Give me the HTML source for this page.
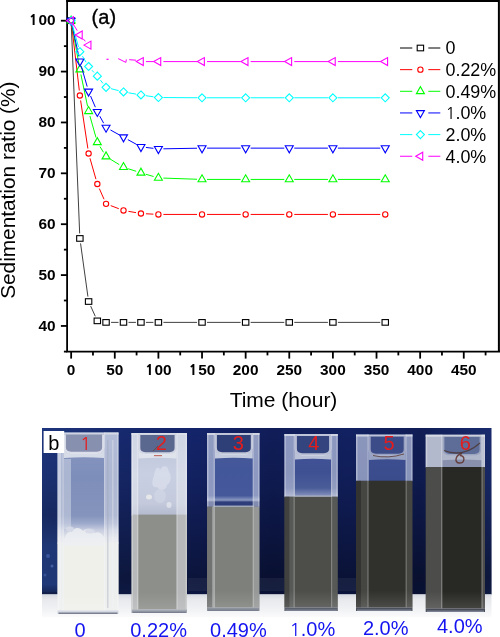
<!DOCTYPE html>
<html><head><meta charset="utf-8"><title>Sedimentation ratio</title>
<style>
html,body{margin:0;padding:0;background:#fff;}
body{width:500px;height:637px;overflow:hidden;position:relative;font-family:"Liberation Sans",Arial,sans-serif;}
svg{position:absolute;left:0;top:0;}
.tl{font-family:"Liberation Sans",Arial,sans-serif;font-weight:bold;font-size:15.4px;fill:#000;}
.at{font-family:"Liberation Sans",Arial,sans-serif;font-size:21px;fill:#000;}
.lg{font-family:"Liberation Sans",Arial,sans-serif;font-size:17.9px;fill:#000;}
.one{font-family:NanumGothic,"Liberation Sans",sans-serif;font-size:0.93em;letter-spacing:-0.01em;}
.tl .one{font-weight:800;letter-spacing:0.05em;}
.pl{font-family:"Liberation Sans",Arial,sans-serif;font-size:20px;fill:#1414f0;}
</style></head>
<body>
<svg width="500" height="637" viewBox="0 0 500 637">
<path d="M67.1,0 V351.6 H500" fill="none" stroke="#000" stroke-width="1.8"/>
<path d="M66.3,0.9 H498.9 V351.6" fill="none" stroke="#000" stroke-width="2"/>
<line x1="63.90" y1="351.60" x2="67.1" y2="351.60" stroke="#000" stroke-width="1.8"/>
<line x1="60.90" y1="325.95" x2="67.1" y2="325.95" stroke="#000" stroke-width="1.8"/>
<line x1="63.90" y1="300.51" x2="67.1" y2="300.51" stroke="#000" stroke-width="1.8"/>
<line x1="60.90" y1="275.08" x2="67.1" y2="275.08" stroke="#000" stroke-width="1.8"/>
<line x1="63.90" y1="249.64" x2="67.1" y2="249.64" stroke="#000" stroke-width="1.8"/>
<line x1="60.90" y1="224.20" x2="67.1" y2="224.20" stroke="#000" stroke-width="1.8"/>
<line x1="63.90" y1="198.76" x2="67.1" y2="198.76" stroke="#000" stroke-width="1.8"/>
<line x1="60.90" y1="173.32" x2="67.1" y2="173.32" stroke="#000" stroke-width="1.8"/>
<line x1="63.90" y1="147.89" x2="67.1" y2="147.89" stroke="#000" stroke-width="1.8"/>
<line x1="60.90" y1="122.45" x2="67.1" y2="122.45" stroke="#000" stroke-width="1.8"/>
<line x1="63.90" y1="97.01" x2="67.1" y2="97.01" stroke="#000" stroke-width="1.8"/>
<line x1="60.90" y1="71.58" x2="67.1" y2="71.58" stroke="#000" stroke-width="1.8"/>
<line x1="63.90" y1="46.14" x2="67.1" y2="46.14" stroke="#000" stroke-width="1.8"/>
<line x1="60.90" y1="20.70" x2="67.1" y2="20.70" stroke="#000" stroke-width="1.8"/>
<line x1="71.15" y1="351.6" x2="71.15" y2="358.60" stroke="#000" stroke-width="1.8"/>
<line x1="92.96" y1="351.6" x2="92.96" y2="355.40" stroke="#000" stroke-width="1.8"/>
<line x1="114.78" y1="351.6" x2="114.78" y2="358.60" stroke="#000" stroke-width="1.8"/>
<line x1="136.59" y1="351.6" x2="136.59" y2="355.40" stroke="#000" stroke-width="1.8"/>
<line x1="158.40" y1="351.6" x2="158.40" y2="358.60" stroke="#000" stroke-width="1.8"/>
<line x1="180.21" y1="351.6" x2="180.21" y2="355.40" stroke="#000" stroke-width="1.8"/>
<line x1="202.03" y1="351.6" x2="202.03" y2="358.60" stroke="#000" stroke-width="1.8"/>
<line x1="223.84" y1="351.6" x2="223.84" y2="355.40" stroke="#000" stroke-width="1.8"/>
<line x1="245.65" y1="351.6" x2="245.65" y2="358.60" stroke="#000" stroke-width="1.8"/>
<line x1="267.46" y1="351.6" x2="267.46" y2="355.40" stroke="#000" stroke-width="1.8"/>
<line x1="289.27" y1="351.6" x2="289.27" y2="358.60" stroke="#000" stroke-width="1.8"/>
<line x1="311.09" y1="351.6" x2="311.09" y2="355.40" stroke="#000" stroke-width="1.8"/>
<line x1="332.90" y1="351.6" x2="332.90" y2="358.60" stroke="#000" stroke-width="1.8"/>
<line x1="354.71" y1="351.6" x2="354.71" y2="355.40" stroke="#000" stroke-width="1.8"/>
<line x1="376.52" y1="351.6" x2="376.52" y2="358.60" stroke="#000" stroke-width="1.8"/>
<line x1="398.34" y1="351.6" x2="398.34" y2="355.40" stroke="#000" stroke-width="1.8"/>
<line x1="420.15" y1="351.6" x2="420.15" y2="358.60" stroke="#000" stroke-width="1.8"/>
<line x1="441.96" y1="351.6" x2="441.96" y2="355.40" stroke="#000" stroke-width="1.8"/>
<line x1="463.77" y1="351.6" x2="463.77" y2="358.60" stroke="#000" stroke-width="1.8"/>
<line x1="485.59" y1="351.6" x2="485.59" y2="355.40" stroke="#000" stroke-width="1.8"/>
<line x1="71.35" y1="25.70" x2="79.67" y2="233.45" stroke="#404040" stroke-width="1"/>
<line x1="80.56" y1="243.40" x2="87.91" y2="296.58" stroke="#404040" stroke-width="1"/>
<line x1="90.66" y1="306.09" x2="95.27" y2="316.31" stroke="#404040" stroke-width="1"/>

<line x1="111.05" y1="322.39" x2="118.50" y2="322.39" stroke="#404040" stroke-width="1"/>
<line x1="128.50" y1="322.39" x2="135.95" y2="322.39" stroke="#404040" stroke-width="1"/>
<line x1="145.95" y1="322.39" x2="153.40" y2="322.39" stroke="#404040" stroke-width="1"/>
<line x1="163.40" y1="322.39" x2="197.03" y2="322.39" stroke="#404040" stroke-width="1"/>
<line x1="207.03" y1="322.39" x2="240.65" y2="322.39" stroke="#404040" stroke-width="1"/>
<line x1="250.65" y1="322.39" x2="284.27" y2="322.39" stroke="#404040" stroke-width="1"/>
<line x1="294.27" y1="322.39" x2="327.90" y2="322.39" stroke="#404040" stroke-width="1"/>
<line x1="337.90" y1="322.39" x2="380.25" y2="322.39" stroke="#404040" stroke-width="1"/>
<rect x="67.95" y="17.90" width="6.40" height="5.60" fill="none" stroke="#000000" stroke-width="1.1"/>
<rect x="76.67" y="235.65" width="6.40" height="5.60" fill="none" stroke="#000000" stroke-width="1.1"/>
<rect x="85.40" y="298.73" width="6.40" height="5.60" fill="none" stroke="#000000" stroke-width="1.1"/>
<rect x="94.12" y="318.06" width="6.40" height="5.60" fill="none" stroke="#000000" stroke-width="1.1"/>
<rect x="102.85" y="319.59" width="6.40" height="5.60" fill="none" stroke="#000000" stroke-width="1.1"/>
<rect x="120.30" y="319.59" width="6.40" height="5.60" fill="none" stroke="#000000" stroke-width="1.1"/>
<rect x="137.75" y="319.59" width="6.40" height="5.60" fill="none" stroke="#000000" stroke-width="1.1"/>
<rect x="155.20" y="319.59" width="6.40" height="5.60" fill="none" stroke="#000000" stroke-width="1.1"/>
<rect x="198.83" y="319.59" width="6.40" height="5.60" fill="none" stroke="#000000" stroke-width="1.1"/>
<rect x="242.45" y="319.59" width="6.40" height="5.60" fill="none" stroke="#000000" stroke-width="1.1"/>
<rect x="286.07" y="319.59" width="6.40" height="5.60" fill="none" stroke="#000000" stroke-width="1.1"/>
<rect x="329.70" y="319.59" width="6.40" height="5.60" fill="none" stroke="#000000" stroke-width="1.1"/>
<rect x="382.05" y="319.59" width="6.40" height="5.60" fill="none" stroke="#000000" stroke-width="1.1"/>
<line x1="71.73" y1="25.67" x2="79.30" y2="90.52" stroke="#ff0000" stroke-width="1"/>
<line x1="80.62" y1="100.43" x2="87.86" y2="148.54" stroke="#ff0000" stroke-width="1"/>
<line x1="89.97" y1="158.29" x2="95.95" y2="179.20" stroke="#ff0000" stroke-width="1"/>
<line x1="99.34" y1="188.59" x2="104.04" y2="199.27" stroke="#ff0000" stroke-width="1"/>
<line x1="110.73" y1="205.62" x2="118.82" y2="208.69" stroke="#ff0000" stroke-width="1"/>
<line x1="128.43" y1="211.33" x2="136.02" y2="212.65" stroke="#ff0000" stroke-width="1"/>
<line x1="145.94" y1="213.78" x2="153.41" y2="214.17" stroke="#ff0000" stroke-width="1"/>
<line x1="163.40" y1="214.43" x2="197.03" y2="214.43" stroke="#ff0000" stroke-width="1"/>
<line x1="207.03" y1="214.43" x2="240.65" y2="214.43" stroke="#ff0000" stroke-width="1"/>
<line x1="250.65" y1="214.43" x2="284.27" y2="214.43" stroke="#ff0000" stroke-width="1"/>
<line x1="294.27" y1="214.43" x2="327.90" y2="214.43" stroke="#ff0000" stroke-width="1"/>
<line x1="337.90" y1="214.43" x2="380.25" y2="214.43" stroke="#ff0000" stroke-width="1"/>
<circle cx="71.15" cy="20.70" r="2.65" fill="none" stroke="#ff0000" stroke-width="1.1"/>
<circle cx="79.88" cy="95.49" r="2.65" fill="none" stroke="#ff0000" stroke-width="1.1"/>
<circle cx="88.60" cy="153.48" r="2.65" fill="none" stroke="#ff0000" stroke-width="1.1"/>
<circle cx="97.33" cy="184.01" r="2.65" fill="none" stroke="#ff0000" stroke-width="1.1"/>
<circle cx="106.05" cy="203.85" r="2.65" fill="none" stroke="#ff0000" stroke-width="1.1"/>
<circle cx="123.50" cy="210.46" r="2.65" fill="none" stroke="#ff0000" stroke-width="1.1"/>
<circle cx="140.95" cy="213.52" r="2.65" fill="none" stroke="#ff0000" stroke-width="1.1"/>
<circle cx="158.40" cy="214.43" r="2.65" fill="none" stroke="#ff0000" stroke-width="1.1"/>
<circle cx="202.03" cy="214.43" r="2.65" fill="none" stroke="#ff0000" stroke-width="1.1"/>
<circle cx="245.65" cy="214.43" r="2.65" fill="none" stroke="#ff0000" stroke-width="1.1"/>
<circle cx="289.27" cy="214.43" r="2.65" fill="none" stroke="#ff0000" stroke-width="1.1"/>
<circle cx="332.90" cy="214.43" r="2.65" fill="none" stroke="#ff0000" stroke-width="1.1"/>
<circle cx="385.25" cy="214.43" r="2.65" fill="none" stroke="#ff0000" stroke-width="1.1"/>
<line x1="72.03" y1="25.62" x2="79.00" y2="64.62" stroke="#00ff00" stroke-width="1"/>
<line x1="80.90" y1="74.43" x2="87.58" y2="106.36" stroke="#00ff00" stroke-width="1"/>
<line x1="89.95" y1="116.07" x2="95.97" y2="137.48" stroke="#00ff00" stroke-width="1"/>
<line x1="99.94" y1="146.56" x2="103.44" y2="152.27" stroke="#00ff00" stroke-width="1"/>
<line x1="110.31" y1="159.15" x2="119.24" y2="164.61" stroke="#00ff00" stroke-width="1"/>
<line x1="128.26" y1="168.75" x2="136.19" y2="171.29" stroke="#00ff00" stroke-width="1"/>
<line x1="145.75" y1="174.22" x2="153.60" y2="176.50" stroke="#00ff00" stroke-width="1"/>
<line x1="163.40" y1="178.08" x2="197.03" y2="179.26" stroke="#00ff00" stroke-width="1"/>
<line x1="207.03" y1="179.43" x2="240.65" y2="179.43" stroke="#00ff00" stroke-width="1"/>
<line x1="250.65" y1="179.43" x2="284.27" y2="179.43" stroke="#00ff00" stroke-width="1"/>
<line x1="294.27" y1="179.43" x2="327.90" y2="179.43" stroke="#00ff00" stroke-width="1"/>
<line x1="337.90" y1="179.43" x2="380.25" y2="179.43" stroke="#00ff00" stroke-width="1"/>
<path d="M67.15,23.03L75.15,23.03L71.15,16.03Z" fill="none" stroke="#00ff00" stroke-width="1.1"/>
<path d="M75.88,71.87L83.88,71.87L79.88,64.87Z" fill="none" stroke="#00ff00" stroke-width="1.1"/>
<path d="M84.60,113.59L92.60,113.59L88.60,106.59Z" fill="none" stroke="#00ff00" stroke-width="1.1"/>
<path d="M93.33,144.62L101.33,144.62L97.33,137.62Z" fill="none" stroke="#00ff00" stroke-width="1.1"/>
<path d="M102.05,158.87L110.05,158.87L106.05,151.87Z" fill="none" stroke="#00ff00" stroke-width="1.1"/>
<path d="M119.50,169.55L127.50,169.55L123.50,162.55Z" fill="none" stroke="#00ff00" stroke-width="1.1"/>
<path d="M136.95,175.15L144.95,175.15L140.95,168.15Z" fill="none" stroke="#00ff00" stroke-width="1.1"/>
<path d="M154.40,180.24L162.40,180.24L158.40,173.24Z" fill="none" stroke="#00ff00" stroke-width="1.1"/>
<path d="M198.03,181.76L206.03,181.76L202.03,174.76Z" fill="none" stroke="#00ff00" stroke-width="1.1"/>
<path d="M241.65,181.76L249.65,181.76L245.65,174.76Z" fill="none" stroke="#00ff00" stroke-width="1.1"/>
<path d="M285.27,181.76L293.27,181.76L289.27,174.76Z" fill="none" stroke="#00ff00" stroke-width="1.1"/>
<path d="M328.90,181.76L336.90,181.76L332.90,174.76Z" fill="none" stroke="#00ff00" stroke-width="1.1"/>
<path d="M381.25,181.76L389.25,181.76L385.25,174.76Z" fill="none" stroke="#00ff00" stroke-width="1.1"/>
<line x1="72.20" y1="25.59" x2="78.83" y2="56.51" stroke="#0000ff" stroke-width="1"/>
<line x1="81.27" y1="66.20" x2="87.20" y2="86.61" stroke="#0000ff" stroke-width="1"/>
<line x1="90.57" y1="96.01" x2="95.35" y2="107.17" stroke="#0000ff" stroke-width="1"/>
<line x1="99.75" y1="116.14" x2="103.63" y2="123.16" stroke="#0000ff" stroke-width="1"/>
<line x1="110.42" y1="129.96" x2="119.13" y2="134.78" stroke="#0000ff" stroke-width="1"/>
<line x1="127.87" y1="139.63" x2="136.58" y2="144.45" stroke="#0000ff" stroke-width="1"/>
<line x1="145.92" y1="147.45" x2="153.43" y2="148.33" stroke="#0000ff" stroke-width="1"/>
<line x1="163.40" y1="148.82" x2="197.03" y2="148.23" stroke="#0000ff" stroke-width="1"/>
<line x1="207.03" y1="148.14" x2="240.65" y2="148.14" stroke="#0000ff" stroke-width="1"/>
<line x1="250.65" y1="148.14" x2="284.27" y2="148.14" stroke="#0000ff" stroke-width="1"/>
<line x1="294.27" y1="148.14" x2="327.90" y2="148.14" stroke="#0000ff" stroke-width="1"/>
<line x1="337.90" y1="148.14" x2="380.25" y2="148.14" stroke="#0000ff" stroke-width="1"/>
<path d="M67.15,18.37L75.15,18.37L71.15,25.37Z" fill="none" stroke="#0000ff" stroke-width="1.1"/>
<path d="M75.88,59.07L83.88,59.07L79.88,66.07Z" fill="none" stroke="#0000ff" stroke-width="1.1"/>
<path d="M84.60,89.08L92.60,89.08L88.60,96.08Z" fill="none" stroke="#0000ff" stroke-width="1.1"/>
<path d="M93.33,109.43L101.33,109.43L97.33,116.43Z" fill="none" stroke="#0000ff" stroke-width="1.1"/>
<path d="M102.05,125.20L110.05,125.20L106.05,132.20Z" fill="none" stroke="#0000ff" stroke-width="1.1"/>
<path d="M119.50,134.87L127.50,134.87L123.50,141.87Z" fill="none" stroke="#0000ff" stroke-width="1.1"/>
<path d="M136.95,144.54L144.95,144.54L140.95,151.54Z" fill="none" stroke="#0000ff" stroke-width="1.1"/>
<path d="M154.40,146.57L162.40,146.57L158.40,153.57Z" fill="none" stroke="#0000ff" stroke-width="1.1"/>
<path d="M198.03,145.81L206.03,145.81L202.03,152.81Z" fill="none" stroke="#0000ff" stroke-width="1.1"/>
<path d="M241.65,145.81L249.65,145.81L245.65,152.81Z" fill="none" stroke="#0000ff" stroke-width="1.1"/>
<path d="M285.27,145.81L293.27,145.81L289.27,152.81Z" fill="none" stroke="#0000ff" stroke-width="1.1"/>
<path d="M328.90,145.81L336.90,145.81L332.90,152.81Z" fill="none" stroke="#0000ff" stroke-width="1.1"/>
<path d="M381.25,145.81L389.25,145.81L385.25,152.81Z" fill="none" stroke="#0000ff" stroke-width="1.1"/>
<line x1="72.50" y1="25.51" x2="78.52" y2="46.92" stroke="#00ffff" stroke-width="1"/>
<line x1="82.42" y1="56.04" x2="86.05" y2="62.18" stroke="#00ffff" stroke-width="1"/>
<line x1="91.95" y1="70.20" x2="93.97" y2="72.44" stroke="#00ffff" stroke-width="1"/>
<line x1="100.40" y1="80.10" x2="102.98" y2="83.40" stroke="#00ffff" stroke-width="1"/>
<line x1="110.89" y1="88.62" x2="118.66" y2="90.66" stroke="#00ffff" stroke-width="1"/>
<line x1="128.43" y1="92.79" x2="136.02" y2="94.12" stroke="#00ffff" stroke-width="1"/>
<line x1="145.90" y1="95.70" x2="153.45" y2="96.80" stroke="#00ffff" stroke-width="1"/>
<line x1="163.40" y1="97.55" x2="197.03" y2="97.75" stroke="#00ffff" stroke-width="1"/>
<line x1="207.03" y1="97.78" x2="240.65" y2="97.78" stroke="#00ffff" stroke-width="1"/>
<line x1="250.65" y1="97.78" x2="284.27" y2="97.78" stroke="#00ffff" stroke-width="1"/>
<line x1="294.27" y1="97.78" x2="327.90" y2="97.78" stroke="#00ffff" stroke-width="1"/>
<line x1="337.90" y1="97.78" x2="380.25" y2="97.78" stroke="#00ffff" stroke-width="1"/>
<path d="M71.15,16.70L75.15,20.70L71.15,24.70L67.15,20.70Z" fill="none" stroke="#00ffff" stroke-width="1.1"/>
<path d="M79.88,47.73L83.88,51.73L79.88,55.73L75.88,51.73Z" fill="none" stroke="#00ffff" stroke-width="1.1"/>
<path d="M88.60,62.49L92.60,66.49L88.60,70.49L84.60,66.49Z" fill="none" stroke="#00ffff" stroke-width="1.1"/>
<path d="M97.33,72.15L101.33,76.15L97.33,80.15L93.33,76.15Z" fill="none" stroke="#00ffff" stroke-width="1.1"/>
<path d="M106.05,83.35L110.05,87.35L106.05,91.35L102.05,87.35Z" fill="none" stroke="#00ffff" stroke-width="1.1"/>
<path d="M123.50,87.93L127.50,91.93L123.50,95.93L119.50,91.93Z" fill="none" stroke="#00ffff" stroke-width="1.1"/>
<path d="M140.95,90.98L144.95,94.98L140.95,98.98L136.95,94.98Z" fill="none" stroke="#00ffff" stroke-width="1.1"/>
<path d="M158.40,93.52L162.40,97.52L158.40,101.52L154.40,97.52Z" fill="none" stroke="#00ffff" stroke-width="1.1"/>
<path d="M202.03,93.78L206.03,97.78L202.03,101.78L198.03,97.78Z" fill="none" stroke="#00ffff" stroke-width="1.1"/>
<path d="M245.65,93.78L249.65,97.78L245.65,101.78L241.65,97.78Z" fill="none" stroke="#00ffff" stroke-width="1.1"/>
<path d="M289.27,93.78L293.27,97.78L289.27,101.78L285.27,97.78Z" fill="none" stroke="#00ffff" stroke-width="1.1"/>
<path d="M332.90,93.78L336.90,97.78L332.90,101.78L328.90,97.78Z" fill="none" stroke="#00ffff" stroke-width="1.1"/>
<path d="M385.25,93.78L389.25,97.78L385.25,101.78L381.25,97.78Z" fill="none" stroke="#00ffff" stroke-width="1.1"/>
<line x1="73.76" y1="24.96" x2="77.26" y2="30.68" stroke="#ff00ff" stroke-width="1"/>
<line x1="83.13" y1="38.74" x2="85.35" y2="41.32" stroke="#ff00ff" stroke-width="1"/>
<line x1="145.95" y1="61.60" x2="153.40" y2="61.60" stroke="#ff00ff" stroke-width="1"/>
<line x1="163.40" y1="61.60" x2="197.03" y2="61.60" stroke="#ff00ff" stroke-width="1"/>
<line x1="207.03" y1="61.60" x2="240.65" y2="61.60" stroke="#ff00ff" stroke-width="1"/>
<line x1="250.65" y1="61.60" x2="284.27" y2="61.60" stroke="#ff00ff" stroke-width="1"/>
<line x1="294.27" y1="61.60" x2="327.90" y2="61.60" stroke="#ff00ff" stroke-width="1"/>
<line x1="337.90" y1="61.60" x2="380.25" y2="61.60" stroke="#ff00ff" stroke-width="1"/>
<path d="M66.48,20.70L73.48,16.70L73.48,24.70Z" fill="none" stroke="#ff00ff" stroke-width="1.1"/>
<path d="M75.21,34.94L82.21,30.94L82.21,38.94Z" fill="none" stroke="#ff00ff" stroke-width="1.1"/>
<path d="M83.93,45.12L90.93,41.12L90.93,49.12Z" fill="none" stroke="#ff00ff" stroke-width="1.1"/>
<path d="M136.28,61.60L143.28,57.60L143.28,65.60Z" fill="none" stroke="#ff00ff" stroke-width="1.1"/>
<path d="M153.73,61.60L160.73,57.60L160.73,65.60Z" fill="none" stroke="#ff00ff" stroke-width="1.1"/>
<path d="M197.36,61.60L204.36,57.60L204.36,65.60Z" fill="none" stroke="#ff00ff" stroke-width="1.1"/>
<path d="M240.98,61.60L247.98,57.60L247.98,65.60Z" fill="none" stroke="#ff00ff" stroke-width="1.1"/>
<path d="M284.61,61.60L291.61,57.60L291.61,65.60Z" fill="none" stroke="#ff00ff" stroke-width="1.1"/>
<path d="M328.23,61.60L335.23,57.60L335.23,65.60Z" fill="none" stroke="#ff00ff" stroke-width="1.1"/>
<path d="M380.58,61.60L387.58,57.60L387.58,65.60Z" fill="none" stroke="#ff00ff" stroke-width="1.1"/>
<line x1="106.5" y1="59.3" x2="108.6" y2="59.3" stroke="#ff00ff" stroke-width="1.2"/>
<polyline points="118.2,58.6 125.9,62.4 126.3,59.4" fill="none" stroke="#ff00ff" stroke-width="1"/>
<line x1="129.2" y1="59.7" x2="136" y2="60.2" stroke="#ff00ff" stroke-width="1"/>
<text x="55.5" y="330.65" text-anchor="end" class="tl">40</text>
<text x="55.5" y="279.78" text-anchor="end" class="tl">50</text>
<text x="55.5" y="228.90" text-anchor="end" class="tl">60</text>
<text x="55.5" y="178.02" text-anchor="end" class="tl">70</text>
<text x="55.5" y="127.15" text-anchor="end" class="tl">80</text>
<text x="55.5" y="76.28" text-anchor="end" class="tl">90</text>
<text x="55.5" y="25.40" text-anchor="end" class="tl"><tspan class="one">1</tspan>00</text>
<text x="71.15" y="375.1" text-anchor="middle" class="tl">0</text>
<text x="114.78" y="375.1" text-anchor="middle" class="tl">50</text>
<text x="158.40" y="375.1" text-anchor="middle" class="tl"><tspan class="one">1</tspan>00</text>
<text x="202.03" y="375.1" text-anchor="middle" class="tl"><tspan class="one">1</tspan>50</text>
<text x="245.65" y="375.1" text-anchor="middle" class="tl">200</text>
<text x="289.27" y="375.1" text-anchor="middle" class="tl">250</text>
<text x="332.90" y="375.1" text-anchor="middle" class="tl">300</text>
<text x="376.52" y="375.1" text-anchor="middle" class="tl">350</text>
<text x="420.15" y="375.1" text-anchor="middle" class="tl">400</text>
<text x="463.77" y="375.1" text-anchor="middle" class="tl">450</text>
<text x="283.5" y="406.8" text-anchor="middle" class="at">Time (hour)</text>
<text transform="translate(14.7,190.2) rotate(-90)" text-anchor="middle" class="at" style="font-size:20.8px">Sedimentation ratio (%)</text>
<text x="91.6" y="23.6" class="at" style="font-size:20px;stroke:#000;stroke-width:0.35px">(a)</text>
<line x1="400" y1="48.00" x2="412.3" y2="48.00" stroke="#000000" stroke-width="1"/>
<line x1="428.3" y1="48.00" x2="440.3" y2="48.00" stroke="#000000" stroke-width="1"/>
<rect x="417.20" y="45.20" width="6.40" height="5.60" fill="none" stroke="#000000" stroke-width="1.1"/>
<text x="445.5" y="54.30" class="lg">0</text>
<line x1="400" y1="69.65" x2="412.3" y2="69.65" stroke="#ff0000" stroke-width="1"/>
<line x1="428.3" y1="69.65" x2="440.3" y2="69.65" stroke="#ff0000" stroke-width="1"/>
<circle cx="420.40" cy="69.65" r="2.65" fill="none" stroke="#ff0000" stroke-width="1.1"/>
<text x="445.5" y="75.95" class="lg">0.22%</text>
<line x1="400" y1="91.30" x2="412.3" y2="91.30" stroke="#00ff00" stroke-width="1"/>
<line x1="428.3" y1="91.30" x2="440.3" y2="91.30" stroke="#00ff00" stroke-width="1"/>
<path d="M416.40,93.63L424.40,93.63L420.40,86.63Z" fill="none" stroke="#00ff00" stroke-width="1.1"/>
<text x="445.5" y="97.60" class="lg">0.49%</text>
<line x1="400" y1="112.95" x2="412.3" y2="112.95" stroke="#0000ff" stroke-width="1"/>
<line x1="428.3" y1="112.95" x2="440.3" y2="112.95" stroke="#0000ff" stroke-width="1"/>
<path d="M416.40,110.62L424.40,110.62L420.40,117.62Z" fill="none" stroke="#0000ff" stroke-width="1.1"/>
<text x="445.5" y="119.25" class="lg"><tspan class="one">1</tspan>.0%</text>
<line x1="400" y1="134.60" x2="412.3" y2="134.60" stroke="#00ffff" stroke-width="1"/>
<line x1="428.3" y1="134.60" x2="440.3" y2="134.60" stroke="#00ffff" stroke-width="1"/>
<path d="M420.40,130.60L424.40,134.60L420.40,138.60L416.40,134.60Z" fill="none" stroke="#00ffff" stroke-width="1.1"/>
<text x="445.5" y="140.90" class="lg">2.0%</text>
<line x1="400" y1="156.25" x2="412.3" y2="156.25" stroke="#ff00ff" stroke-width="1"/>
<line x1="428.3" y1="156.25" x2="440.3" y2="156.25" stroke="#ff00ff" stroke-width="1"/>
<path d="M415.73,156.25L422.73,152.25L422.73,160.25Z" fill="none" stroke="#ff00ff" stroke-width="1.1"/>
<text x="445.5" y="162.55" class="lg">4.0%</text>
<defs>
<linearGradient id="bg" x1="0" y1="0" x2="1" y2="0">
 <stop offset="0" stop-color="#1e367e"/>
 <stop offset="0.033" stop-color="#1c337a"/>
 <stop offset="0.185" stop-color="#17296e"/>
 <stop offset="0.345" stop-color="#14246a"/>
 <stop offset="0.512" stop-color="#101d58"/>
 <stop offset="0.679" stop-color="#122162"/>
 <stop offset="0.841" stop-color="#101d56"/>
 <stop offset="1" stop-color="#192b6e"/>
</linearGradient>
<linearGradient id="bgv" x1="0" y1="0" x2="0" y2="1">
 <stop offset="0" stop-color="#000" stop-opacity="0"/>
 <stop offset="0.3" stop-color="#000" stop-opacity="0.1"/>
 <stop offset="0.65" stop-color="#000" stop-opacity="0.3"/>
 <stop offset="0.9" stop-color="#000" stop-opacity="0.45"/>
 <stop offset="1" stop-color="#000" stop-opacity="0.4"/>
</linearGradient>
<linearGradient id="tbl" x1="0" y1="0" x2="0" y2="1">
 <stop offset="0" stop-color="#d6d9e0"/>
 <stop offset="0.2" stop-color="#e6e8ec"/>
 <stop offset="0.7" stop-color="#f2f3f5"/>
 <stop offset="1" stop-color="#fbfbfc"/>
</linearGradient>
<linearGradient id="lstrip" x1="0" y1="0" x2="0" y2="1">
 <stop offset="0" stop-color="#2a4a98" stop-opacity="0"/>
 <stop offset="0.4" stop-color="#2a4a98" stop-opacity="0.5"/>
 <stop offset="0.9" stop-color="#2a4a98" stop-opacity="0.6"/>
 <stop offset="1" stop-color="#2a4a98" stop-opacity="0.2"/>
</linearGradient>
<linearGradient id="lbot" x1="0" y1="0" x2="0" y2="1">
 <stop offset="0" stop-color="#fff" stop-opacity="0"/>
 <stop offset="1" stop-color="#fff" stop-opacity="0.13"/>
</linearGradient>
<linearGradient id="ch1" x1="0" y1="0" x2="0" y2="1">
 <stop offset="0" stop-color="#8898c2"/>
 <stop offset="0.4" stop-color="#7e8eba"/>
 <stop offset="0.75" stop-color="#8494bc"/>
 <stop offset="0.82" stop-color="#9eaacc"/>
 <stop offset="0.88" stop-color="#c8cee0"/>
 <stop offset="0.95" stop-color="#e4e6ec"/>
 <stop offset="1" stop-color="#eeeff0"/>
</linearGradient>
<linearGradient id="ch2" x1="0" y1="0" x2="0" y2="1">
 <stop offset="0" stop-color="#bcc4da"/>
 <stop offset="0.5" stop-color="#c8cfe2"/>
 <stop offset="0.85" stop-color="#c4cadc"/>
 <stop offset="1" stop-color="#b4bace"/>
</linearGradient>
<linearGradient id="ch3" x1="0" y1="0" x2="0" y2="1">
 <stop offset="0" stop-color="#4a5c98"/>
 <stop offset="0.5" stop-color="#42569a"/>
 <stop offset="0.84" stop-color="#44589a"/>
 <stop offset="0.9" stop-color="#8a98c0"/>
 <stop offset="0.925" stop-color="#2e3e7a"/>
 <stop offset="1" stop-color="#2c3c78"/>
</linearGradient>
<linearGradient id="ch4" x1="0" y1="0" x2="0" y2="1">
 <stop offset="0" stop-color="#44569a"/>
 <stop offset="0.6" stop-color="#3e5092"/>
 <stop offset="0.85" stop-color="#4a5c98"/>
 <stop offset="0.95" stop-color="#7886b4"/>
 <stop offset="1" stop-color="#a0aac8"/>
</linearGradient>
<linearGradient id="ch5" x1="0" y1="0" x2="0" y2="1">
 <stop offset="0" stop-color="#3e5092"/>
 <stop offset="1" stop-color="#3a4c8c"/>
</linearGradient>
</defs>
<rect x="42" y="428" width="449.5" height="166.5" fill="url(#bg)"/>
<rect x="42" y="428" width="449.5" height="166.5" fill="url(#bgv)"/>
<rect x="42" y="594.3" width="449.5" height="23" fill="url(#tbl)"/>
<rect x="42" y="515" width="15.5" height="77" fill="url(#lstrip)"/>
<circle cx="48" cy="556" r="2" fill="#4a6ab8" opacity="0.6"/><circle cx="52" cy="566" r="1.5" fill="#5a7ac0" opacity="0.6"/><circle cx="45" cy="575" r="1.5" fill="#4a6ab8" opacity="0.5"/>
<rect x="188" y="578" width="19" height="13" fill="#4a5068" opacity="0.22"/>
<rect x="260" y="578" width="24" height="13" fill="#4a5068" opacity="0.22"/>
<rect x="338" y="578" width="18" height="13" fill="#4a5068" opacity="0.22"/>
<rect x="57.5" y="432.5" width="61.0" height="111.0" fill="url(#ch1)"/>
<rect x="57.5" y="542.5" width="61.0" height="68.0" fill="#f0f0eb"/>
<path d="M64,434.0 H104 V447.5 Q104,453.0 97,453.5 H71 Q64,453.0 64,447.5 Z" fill="#8890b0"/>
<path d="M64.8,434.5 V447.5 Q64.8,452.5 71,452.8 H97 Q103.2,452.5 103.2,447.5 V434.5" fill="none" stroke="#eef0f6" stroke-width="2.2" opacity="0.81"/>
<path d="M64,448.0 Q64,453.0 71,453.5 H97 Q104,453.0 104,448.0 V458.0 Q84.0,456.5 64,458.0 Z" fill="#e4e7ee" opacity="0.85"/>
<rect x="57.5" y="432.5" width="6.5" height="178.0" fill="#e8eaf2" opacity="0.45"/>
<rect x="104" y="432.5" width="14.5" height="178.0" fill="#e8eaf2" opacity="0.45"/>
<rect x="57.5" y="432.5" width="1.5" height="181.5" fill="#fff" opacity="0.3"/>
<rect x="117.0" y="432.5" width="1.5" height="181.5" fill="#fff" opacity="0.25"/>
<rect x="62.5" y="432.5" width="1.2" height="181.5" fill="#fff" opacity="0.25"/>
<rect x="104" y="432.5" width="1.2" height="181.5" fill="#fff" opacity="0.25"/>
<rect x="57.5" y="432.5" width="61.0" height="2" fill="#dfe2ea" opacity="0.8"/>
<rect x="57.5" y="593.5" width="61.0" height="17" fill="url(#lbot)"/>
<rect x="57.5" y="610.5" width="61.0" height="3.5" fill="#d4d8e2"/>
<rect x="58.5" y="612.5" width="59.0" height="1.5" fill="#7a8090"/>
<text x="85.5" y="449.6" text-anchor="middle" style="font-family:'Liberation Sans',Arial,sans-serif;font-size:20px;fill:#e41c1c"><tspan class="one">1</tspan></text>
<rect x="131.5" y="433" width="55.5" height="82.60000000000002" fill="url(#ch2)"/>
<rect x="131.5" y="514.6" width="55.5" height="94.89999999999998" fill="#8d8f8b"/>
<path d="M138.4,434.5 H176.5 V448 Q176.5,453.5 169.5,454 H145.4 Q138.4,453.5 138.4,448 Z" fill="#5a6890"/>
<path d="M139.20000000000002,435 V448 Q139.20000000000002,453 145.4,453.3 H169.5 Q175.7,453 175.7,448 V435" fill="none" stroke="#eef0f6" stroke-width="2.2" opacity="0.81"/>
<path d="M138.4,448.5 Q138.4,453.5 145.4,454 H169.5 Q176.5,453.5 176.5,448.5 V458.5 Q157.45,457 138.4,458.5 Z" fill="#e4e7ee" opacity="0.85"/>
<rect x="131.5" y="433" width="6.900000000000006" height="176.5" fill="#e8eaf2" opacity="0.45"/>
<rect x="176.5" y="433" width="10.5" height="176.5" fill="#e8eaf2" opacity="0.45"/>
<rect x="131.5" y="433" width="1.5" height="180" fill="#fff" opacity="0.3"/>
<rect x="185.5" y="433" width="1.5" height="180" fill="#fff" opacity="0.25"/>
<rect x="136.9" y="433" width="1.2" height="180" fill="#fff" opacity="0.25"/>
<rect x="176.5" y="433" width="1.2" height="180" fill="#fff" opacity="0.25"/>
<rect x="131.5" y="433" width="55.5" height="2" fill="#dfe2ea" opacity="0.8"/>
<rect x="131.5" y="592.5" width="55.5" height="17" fill="url(#lbot)"/>
<rect x="131.5" y="609.5" width="55.5" height="3.5" fill="#a4a8b2"/>
<rect x="132.5" y="611.5" width="53.5" height="1.5" fill="#7a8090"/>
<text x="161.2" y="449.6" text-anchor="middle" style="font-family:'Liberation Sans',Arial,sans-serif;font-size:20px;fill:#e41c1c">2</text>
<rect x="207" y="433" width="52.5" height="74.60000000000002" fill="url(#ch3)"/>
<rect x="207" y="506.6" width="52.5" height="100.89999999999998" fill="#7e807b"/>
<path d="M215,434.5 H252.7 V448 Q252.7,453.5 245.7,454 H222 Q215,453.5 215,448 Z" fill="#2e3e76"/>
<path d="M215.8,435 V448 Q215.8,453 222,453.3 H245.7 Q251.89999999999998,453 251.89999999999998,448 V435" fill="none" stroke="#eef0f6" stroke-width="2.2" opacity="0.76"/>
<path d="M215,448.5 Q215,453.5 222,454 H245.7 Q252.7,453.5 252.7,448.5 V458.5 Q233.85,457 215,458.5 Z" fill="#e4e7ee" opacity="0.8"/>
<rect x="207" y="433" width="8" height="73.60000000000002" fill="#e8eaf2" opacity="0.45"/>
<rect x="252.7" y="433" width="6.800000000000011" height="73.60000000000002" fill="#e8eaf2" opacity="0.45"/>
<rect x="207" y="506.6" width="8" height="100.89999999999998" fill="#dde0ea" opacity="0.25"/>
<rect x="252.7" y="506.6" width="6.800000000000011" height="100.89999999999998" fill="#dde0ea" opacity="0.25"/>
<rect x="207" y="433" width="1.5" height="73.60000000000002" fill="#fff" opacity="0.3"/>
<rect x="258.0" y="433" width="1.5" height="73.60000000000002" fill="#fff" opacity="0.25"/>
<rect x="207" y="506.6" width="5" height="100.89999999999998" fill="#000" opacity="0.25"/>
<rect x="213.5" y="433" width="1.2" height="178" fill="#fff" opacity="0.25"/>
<rect x="252.7" y="433" width="1.2" height="178" fill="#fff" opacity="0.25"/>
<rect x="207" y="433" width="52.5" height="2" fill="#dfe2ea" opacity="0.8"/>
<rect x="207" y="590.5" width="52.5" height="17" fill="url(#lbot)"/>
<rect x="207" y="607.5" width="52.5" height="3.5" fill="#8e929c"/>
<rect x="208" y="609.5" width="50.5" height="1.5" fill="#7a8090"/>
<text x="238.4" y="449.6" text-anchor="middle" style="font-family:'Liberation Sans',Arial,sans-serif;font-size:20px;fill:#e41c1c">3</text>
<rect x="284.4" y="434" width="53.400000000000034" height="63.5" fill="url(#ch4)"/>
<rect x="284.4" y="496.5" width="53.400000000000034" height="111.0" fill="#4d4e4a"/>
<path d="M295,435.5 H331 V449 Q331,454.5 324,455 H302 Q295,454.5 295,449 Z" fill="#34447e"/>
<path d="M295.8,436 V449 Q295.8,454 302,454.3 H324 Q330.2,454 330.2,449 V436" fill="none" stroke="#eef0f6" stroke-width="2.2" opacity="0.71"/>
<path d="M295,449.5 Q295,454.5 302,455 H324 Q331,454.5 331,449.5 V459.5 Q313.0,458 295,459.5 Z" fill="#e4e7ee" opacity="0.75"/>
<rect x="284.4" y="434" width="10.600000000000023" height="62.5" fill="#e8eaf2" opacity="0.45"/>
<rect x="331" y="434" width="6.800000000000011" height="62.5" fill="#e8eaf2" opacity="0.45"/>
<rect x="284.4" y="496.5" width="10.600000000000023" height="111.0" fill="#dde0ea" opacity="0.08"/>
<rect x="331" y="496.5" width="6.800000000000011" height="111.0" fill="#dde0ea" opacity="0.08"/>
<rect x="284.4" y="434" width="1.5" height="62.5" fill="#fff" opacity="0.3"/>
<rect x="336.3" y="434" width="1.5" height="62.5" fill="#fff" opacity="0.25"/>
<rect x="284.4" y="496.5" width="5" height="111.0" fill="#000" opacity="0.25"/>
<rect x="293.5" y="434" width="1.2" height="177" fill="#fff" opacity="0.25"/>
<rect x="331" y="434" width="1.2" height="177" fill="#fff" opacity="0.25"/>
<rect x="284.4" y="434" width="53.400000000000034" height="2" fill="#dfe2ea" opacity="0.8"/>
<rect x="284.4" y="590.5" width="53.400000000000034" height="17" fill="url(#lbot)"/>
<rect x="284.4" y="607.5" width="53.400000000000034" height="3.5" fill="#5c606c"/>
<rect x="285.4" y="609.5" width="51.400000000000034" height="1.5" fill="#7a8090"/>
<text x="313.7" y="449.6" text-anchor="middle" style="font-family:'Liberation Sans',Arial,sans-serif;font-size:20px;fill:#e41c1c">4</text>
<rect x="356" y="434.5" width="56.5" height="47.19999999999999" fill="url(#ch5)"/>
<rect x="356" y="480.7" width="56.5" height="126.80000000000001" fill="#30302c"/>
<path d="M368.8,436.0 H405.6 V449.5 Q405.6,455.0 398.6,455.5 H375.8 Q368.8,455.0 368.8,449.5 Z" fill="#3c4c88"/>
<path d="M369.6,436.5 V449.5 Q369.6,454.5 375.8,454.8 H398.6 Q404.8,454.5 404.8,449.5 V436.5" fill="none" stroke="#eef0f6" stroke-width="2.2" opacity="0.52"/>
<path d="M368.8,450.0 Q368.8,455.0 375.8,455.5 H398.6 Q405.6,455.0 405.6,450.0 V460.0 Q387.20000000000005,458.5 368.8,460.0 Z" fill="#e4e7ee" opacity="0.55"/>
<rect x="356" y="434.5" width="12.800000000000011" height="46.19999999999999" fill="#e8eaf2" opacity="0.45"/>
<rect x="405.6" y="434.5" width="6.899999999999977" height="46.19999999999999" fill="#e8eaf2" opacity="0.45"/>
<rect x="356" y="480.7" width="12.800000000000011" height="126.80000000000001" fill="#dde0ea" opacity="0.12"/>
<rect x="405.6" y="480.7" width="6.899999999999977" height="126.80000000000001" fill="#dde0ea" opacity="0.12"/>
<rect x="356" y="434.5" width="1.5" height="46.19999999999999" fill="#fff" opacity="0.3"/>
<rect x="411.0" y="434.5" width="1.5" height="46.19999999999999" fill="#fff" opacity="0.25"/>
<rect x="356" y="480.7" width="5" height="126.80000000000001" fill="#000" opacity="0.25"/>
<rect x="367.3" y="434.5" width="1.2" height="176.5" fill="#fff" opacity="0.25"/>
<rect x="405.6" y="434.5" width="1.2" height="176.5" fill="#fff" opacity="0.25"/>
<rect x="356" y="434.5" width="56.5" height="2" fill="#dfe2ea" opacity="0.8"/>
<rect x="356" y="590.5" width="56.5" height="17" fill="url(#lbot)"/>
<rect x="356" y="607.5" width="56.5" height="3.5" fill="#4c505c"/>
<rect x="357" y="609.5" width="54.5" height="1.5" fill="#7a8090"/>
<text x="389.0" y="449.6" text-anchor="middle" style="font-family:'Liberation Sans',Arial,sans-serif;font-size:20px;fill:#e41c1c">5</text>
<rect x="425.7" y="434.7" width="59.30000000000001" height="33.30000000000001" fill="#8890ae"/>
<rect x="425.7" y="467" width="59.30000000000001" height="141.5" fill="#282824"/>
<path d="M442.5,436.2 H481.5 V449.7 Q481.5,455.2 474.5,455.7 H449.5 Q442.5,455.2 442.5,449.7 Z" fill="#5e6c98"/>
<path d="M443.3,436.7 V449.7 Q443.3,454.7 449.5,455.0 H474.5 Q480.7,454.7 480.7,449.7 V436.7" fill="none" stroke="#eef0f6" stroke-width="2.2" opacity="0.43"/>
<path d="M442.5,450.2 Q442.5,455.2 449.5,455.7 H474.5 Q481.5,455.2 481.5,450.2 V460.2 Q462.0,458.7 442.5,460.2 Z" fill="#e4e7ee" opacity="0.45"/>
<rect x="425.7" y="434.7" width="16.80000000000001" height="32.30000000000001" fill="#e8eaf2" opacity="0.45"/>
<rect x="481.5" y="434.7" width="3.5" height="32.30000000000001" fill="#e8eaf2" opacity="0.45"/>
<rect x="425.7" y="467" width="16.80000000000001" height="141.5" fill="#dde0ea" opacity="0.2"/>
<rect x="481.5" y="467" width="3.5" height="141.5" fill="#dde0ea" opacity="0.2"/>
<rect x="425.7" y="434.7" width="1.5" height="32.30000000000001" fill="#fff" opacity="0.3"/>
<rect x="483.5" y="434.7" width="1.5" height="32.30000000000001" fill="#fff" opacity="0.25"/>
<rect x="441.0" y="434.7" width="1.2" height="177.3" fill="#fff" opacity="0.25"/>
<rect x="481.5" y="434.7" width="1.2" height="177.3" fill="#fff" opacity="0.25"/>
<rect x="425.7" y="434.7" width="59.30000000000001" height="2" fill="#dfe2ea" opacity="0.8"/>
<rect x="425.7" y="591.5" width="59.30000000000001" height="17" fill="url(#lbot)"/>
<rect x="425.7" y="608.5" width="59.30000000000001" height="3.5" fill="#484c58"/>
<rect x="426.7" y="610.5" width="57.30000000000001" height="1.5" fill="#7a8090"/>
<text x="465.3" y="449.6" text-anchor="middle" style="font-family:'Liberation Sans',Arial,sans-serif;font-size:20px;fill:#e41c1c">6</text>
<rect x="64" y="459" width="7" height="70" fill="#e0e4ee" opacity="0.45"/>
<rect x="59" y="433" width="2" height="176" fill="#f4f6fa" opacity="0.35"/>
<rect x="107" y="440" width="1.5" height="168" fill="#9aa0b4" opacity="0.35"/>
<rect x="112" y="440" width="1.5" height="168" fill="#f4f6fa" opacity="0.3"/>
<path d="M63,546 C64,536 68,530 72,532 C75,526 80,528 83,531 C87,527 92,529 95,533 C99,531 102,534 104,537 L104,546 Z" fill="#eceef2" opacity="0.85"/>
<ellipse cx="70" cy="529" rx="4" ry="2.5" fill="#d8dce8" opacity="0.8"/>
<ellipse cx="90" cy="531" rx="5" ry="2.5" fill="#d4d8e6" opacity="0.8"/>
<path d="M154,476 C155,468 158,465 160,470 C163,464 168,465 169,472 C172,476 171,483 167,485 C166,491 160,491 157,487 C152,489 151,482 154,476 Z" fill="#e8ebf3" opacity="0.45"/>
<ellipse cx="149" cy="497" rx="3" ry="2.5" fill="#f2f2ee" opacity="0.7"/>
<ellipse cx="169" cy="505" rx="2.5" ry="3" fill="#eef0f2" opacity="0.6"/>
<ellipse cx="160" cy="496" rx="6" ry="7" fill="#dfe3ee" opacity="0.35"/>
<rect x="213.5" y="505.5" width="40.5" height="1.5" fill="#c8ccd4" opacity="0.7"/>
<rect x="295" y="495.5" width="37" height="1.5" fill="#b8bcc4" opacity="0.6"/>
<path d="M373,455.5 Q388,459 404,454" fill="none" stroke="#5a3a30" stroke-width="1" opacity="0.8"/>
<path d="M444,450.5 Q463,458 480,443" fill="none" stroke="#4a3028" stroke-width="1.3" opacity="0.75"/>
<path d="M462,453.5 C455,455 454,463 459.5,463 C465,463 465.5,456 460,455.5" fill="none" stroke="#5a2820" stroke-width="1.4" opacity="0.8"/>
<path d="M153,451 L158,446" fill="none" stroke="#6a4030" stroke-width="1" opacity="0.7"/>
<rect x="154" y="455" width="8" height="1.2" fill="#b04030" opacity="0.7"/>
<rect x="43.6" y="431" width="20.6" height="22" fill="#fff"/>
<text x="48.2" y="450.3" style="font-family:'Liberation Sans',Arial,sans-serif;font-size:20px;fill:#000">b</text>
<text x="80.0" y="636.8" text-anchor="middle" class="pl">0</text>
<text x="158.6" y="636.8" text-anchor="middle" class="pl">0.22%</text>
<text x="238.4" y="637.3" text-anchor="middle" class="pl">0.49%</text>
<text x="312.4" y="636.3" text-anchor="middle" class="pl"><tspan class="one">1</tspan>.0%</text>
<text x="385.7" y="635.1" text-anchor="middle" class="pl">2.0%</text>
<text x="459.8" y="632.9" text-anchor="middle" class="pl">4.0%</text>
</svg>
</body></html>
